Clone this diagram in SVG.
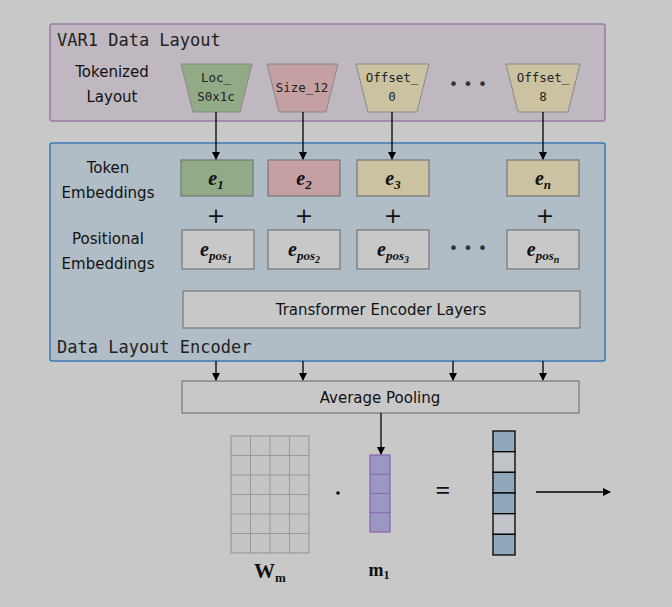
<svg xmlns="http://www.w3.org/2000/svg" width="672" height="607" viewBox="0 0 672 607">
<defs>
<marker id="ah" markerWidth="8" markerHeight="8" refX="7" refY="4" orient="auto" markerUnits="userSpaceOnUse"><path d="M0,0 L8,4 L0,8 Z" fill="#000"/></marker>
<style>
.lbl{font-family:"DejaVu Sans","Liberation Sans",sans-serif;font-size:15px;fill:#111;text-anchor:middle}
.mono{font-family:"DejaVu Sans Mono","Liberation Mono",monospace;fill:#222}
.tk{font-family:"DejaVu Sans Mono","Liberation Mono",monospace;font-size:12.5px;fill:#222;text-anchor:middle}
.trap{stroke:#888;stroke-width:1}
.box{stroke:#777;stroke-width:1.2}
.em{font-family:"Liberation Serif",serif;font-style:italic;font-weight:bold;font-size:20px;fill:#111;text-anchor:middle}
.sub{font-size:13px}
.plus{font-family:"DejaVu Sans",sans-serif;font-size:22px;fill:#111;text-anchor:middle}
.conn{stroke:#000;stroke-width:1.3;fill:none;marker-end:url(#ah)}
.dots{font-family:"DejaVu Sans",sans-serif;font-size:16px;fill:#333;text-anchor:middle}
.b{font-family:"Liberation Serif",serif;font-weight:bold;fill:#111;text-anchor:middle}
</style>
</defs>
<rect width="672" height="607" fill="#c8c8c8"/>
<g id="layout">
<rect x="50" y="24" width="555" height="97" rx="2" fill="#c0b8c0" stroke="#9c7aa4" stroke-width="1.5"/>
<text class="mono" x="57" y="46" font-size="17">VAR1 Data Layout</text>
<text class="lbl" x="112" y="77">Tokenized</text>
<text class="lbl" x="112" y="102">Layout</text>
</g>
<g id="tok1"><polygon class="trap" points="181,64 252,64 240,112 193,112" fill="#92aa86"/><text class="tk" x="216" y="82">Loc_</text><text class="tk" x="216" y="101">S0x1c</text></g>
<g id="tok2"><polygon class="trap" points="267,64 338,64 326,112 279,112" fill="#c4a0a2"/><text class="tk" x="302" y="92">Size_12</text></g>
<g id="tok3"><polygon class="trap" points="356,64 429,64 417,112 368,112" fill="#cbc2a2"/><text class="tk" x="392" y="82">Offset_</text><text class="tk" x="392" y="101">0</text></g>
<text class="dots" x="468" y="90">• • •</text>
<g id="tok4"><polygon class="trap" points="506,64 580,64 568,112 518,112" fill="#cbc2a2"/><text class="tk" x="543" y="82">Offset_</text><text class="tk" x="543" y="101">8</text></g>
<g id="encoder">
<rect x="50" y="143" width="555" height="218" rx="2" fill="#b0bcc6" stroke="#3a78b8" stroke-width="1.5"/>
<text class="mono" x="57" y="353" font-size="17">Data Layout Encoder</text>
<text class="lbl" x="108" y="173">Token</text>
<text class="lbl" x="108" y="198">Embeddings</text>
<text class="lbl" x="108" y="244">Positional</text>
<text class="lbl" x="108" y="269">Embeddings</text>
<g id="e1"><rect class="box" x="181" y="160" width="72" height="36" fill="#92aa86"/><text class="em" x="216" y="185">e<tspan class="sub" dy="4">1</tspan></text></g>
<g id="e2"><rect class="box" x="268" y="160" width="72" height="36" fill="#c4a0a2"/><text class="em" x="304" y="185">e<tspan class="sub" dy="4">2</tspan></text></g>
<g id="e3"><rect class="box" x="357" y="160" width="72" height="36" fill="#cbc2a2"/><text class="em" x="393" y="185">e<tspan class="sub" dy="4">3</tspan></text></g>
<g id="en"><rect class="box" x="507" y="160" width="72" height="36" fill="#cbc2a2"/><text class="em" x="543" y="185">e<tspan class="sub" dy="4">n</tspan></text></g>
<text class="plus" x="216" y="223">+</text><text class="plus" x="304" y="223">+</text><text class="plus" x="393" y="223">+</text><text class="plus" x="545" y="223">+</text>
<g id="p1"><rect class="box" x="182" y="230" width="72" height="39" fill="#c8c8c8"/><text class="em" x="216" y="256">e<tspan class="sub" dy="4">pos<tspan font-size="10" dy="3">1</tspan></tspan></text></g>
<g id="p2"><rect class="box" x="268" y="230" width="72" height="39" fill="#c8c8c8"/><text class="em" x="304" y="256">e<tspan class="sub" dy="4">pos<tspan font-size="10" dy="3">2</tspan></tspan></text></g>
<g id="p3"><rect class="box" x="357" y="230" width="72" height="39" fill="#c8c8c8"/><text class="em" x="393" y="256">e<tspan class="sub" dy="4">pos<tspan font-size="10" dy="3">3</tspan></tspan></text></g>
<text class="dots" x="468" y="254">• • •</text>
<g id="pn"><rect class="box" x="507" y="230" width="72" height="39" fill="#c8c8c8"/><text class="em" x="543" y="256">e<tspan class="sub" dy="4">pos<tspan font-size="10" dy="3">n</tspan></tspan></text></g>
<g id="transformer"><rect class="box" x="183" y="291" width="397" height="37" fill="#c8c8c8"/><text class="lbl" x="381" y="315">Transformer Encoder Layers</text></g>
</g>
<g id="pool"><rect class="box" x="182" y="381" width="397" height="32" fill="#c8c8c8"/><text class="lbl" x="380" y="403">Average Pooling</text></g>
<g id="Wm">
<rect x="231" y="436" width="78" height="117" fill="#c4c4c4" stroke="#999" stroke-width="1.2"/>
<path d="M250.5,436V553M270,436V553M289.5,436V553M231,455.5H309M231,475H309M231,494.5H309M231,514H309M231,533.5H309" stroke="#999" fill="none"/>
<text class="b" x="270" y="578" font-size="21">W<tspan font-size="13" dy="4">m</tspan></text>
</g>
<circle cx="338" cy="493" r="1.8" fill="#111"/>
<g id="m1">
<rect x="370" y="455" width="20" height="77" fill="#9a98c0" stroke="#8a60b0" stroke-width="1.2"/>
<path d="M370,474.25H390M370,493.5H390M370,512.75H390" stroke="#8a60b0"/>
<text class="b" x="379" y="576" font-size="18">m<tspan font-size="12" dy="3">1</tspan></text>
</g>
<text class="b" x="443" y="499" font-size="26">=</text>
<g id="out" stroke="#000" stroke-width="1.3">
<rect x="493" y="431" width="22" height="20.7" fill="#90a8ba"/>
<rect x="493" y="451.7" width="22" height="20.7" fill="#c0c4c8"/>
<rect x="493" y="472.3" width="22" height="20.7" fill="#90a8ba"/>
<rect x="493" y="493" width="22" height="20.7" fill="#90a8ba"/>
<rect x="493" y="513.7" width="22" height="20.7" fill="#c0c4c8"/>
<rect x="493" y="534.3" width="22" height="20.7" fill="#90a8ba"/>
</g>
<g id="connectors">
<path class="conn" d="M216,112V159"/><path class="conn" d="M303,112V159"/><path class="conn" d="M392,112V159"/><path class="conn" d="M543,112V159"/>
<path class="conn" d="M216,361V380"/><path class="conn" d="M303,361V380"/><path class="conn" d="M453,361V380"/><path class="conn" d="M543,361V380"/>
<path class="conn" d="M381,413V454"/>
<path class="conn" d="M536,492H610"/>
</g>
</svg>
